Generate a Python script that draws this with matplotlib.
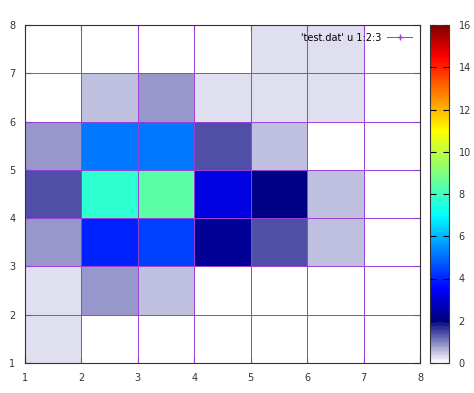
import numpy as np
import matplotlib
matplotlib.use("Agg")
import matplotlib.pyplot as plt
from matplotlib.colors import LinearSegmentedColormap

# cell values, one list per row, bottom row (y=1..2) first
x_edges = [1, 2, 3, 4, 5, 6, 7, 8]
y_edges = [1, 2, 3, 4, 5, 6, 7, 8]
row_1 = [0.27, 0, 0, 0, 0, 0, 0]
row_2 = [0.27, 0.84, 0.56, 0, 0, 0, 0]
row_3 = [0.84, 3.94, 4.38, 2.3, 1.4, 0.56, 0]
row_4 = [1.4, 7.7, 8.4, 3.13, 2.1, 0.56, 0]
row_5 = [0.84, 5.15, 5.15, 1.4, 0.56, 0, 0]
row_6 = [0, 0.56, 0.84, 0.27, 0.27, 0.27, 0]
row_7 = [0, 0, 0, 0, 0.27, 0.27, 0]
cb_ticks = [0, 2, 4, 6, 8, 10, 12, 14, 16]
legend_label = "'test.dat' u 1:2:3"

z = np.array([row_1, row_2, row_3, row_4, row_5, row_6, row_7])

# white -> navy up to 2, then a jet-like ramp up to 16
vmax = 16.0
stops = [(0, "#ffffff"), (2, "#000080"), (3.5, "#0000ff"), (7, "#00ffff"),
         (11, "#ffff00"), (14.5, "#ff0000"), (16, "#800000")]
cmap = LinearSegmentedColormap.from_list("pal", [(v / vmax, c) for v, c in stops])

fig = plt.figure(figsize=(4.74, 3.93), dpi=100)
ax = fig.add_axes([25 / 474, 30 / 393, 395 / 474, 338 / 393])
cax = fig.add_axes([430 / 474, 30 / 393, 19 / 474, 338 / 393])

mesh = ax.pcolormesh(x_edges, y_edges, z, cmap=cmap, vmin=0, vmax=vmax)

grid_col = "#9a40d8"
for v in x_edges[1:-1]:
    ax.axvline(v, color=grid_col, lw=0.7)
for v in y_edges[1:-1]:
    ax.axhline(v, color=grid_col, lw=0.7)

ax.set_xlim(1, 8)
ax.set_ylim(1, 8)
ax.set_xticks(x_edges)
ax.set_yticks(y_edges)
ax.tick_params(direction="in", length=4, width=0.8, labelsize=7,
               labelcolor="#333333", top=True, right=True, pad=7)
for s in ax.spines.values():
    s.set_color("#333333")
    s.set_linewidth(0.8)

ax.plot([], [], color=grid_col, lw=0.7, marker="+", ms=4, label=legend_label)
ax.legend(loc="upper right", frameon=False, markerfirst=False, fontsize=7,
          handlelength=2.6, borderaxespad=0.4, handletextpad=0.6)

cb = fig.colorbar(mesh, cax=cax, ticks=cb_ticks)
cb.outline.set_edgecolor("#333333")
cb.outline.set_linewidth(0.8)
cax.tick_params(direction="in", length=4, width=0.8, labelsize=7,
                labelcolor="#333333", left=True, right=True, pad=7)

fig.savefig("out.png", dpi=100)
